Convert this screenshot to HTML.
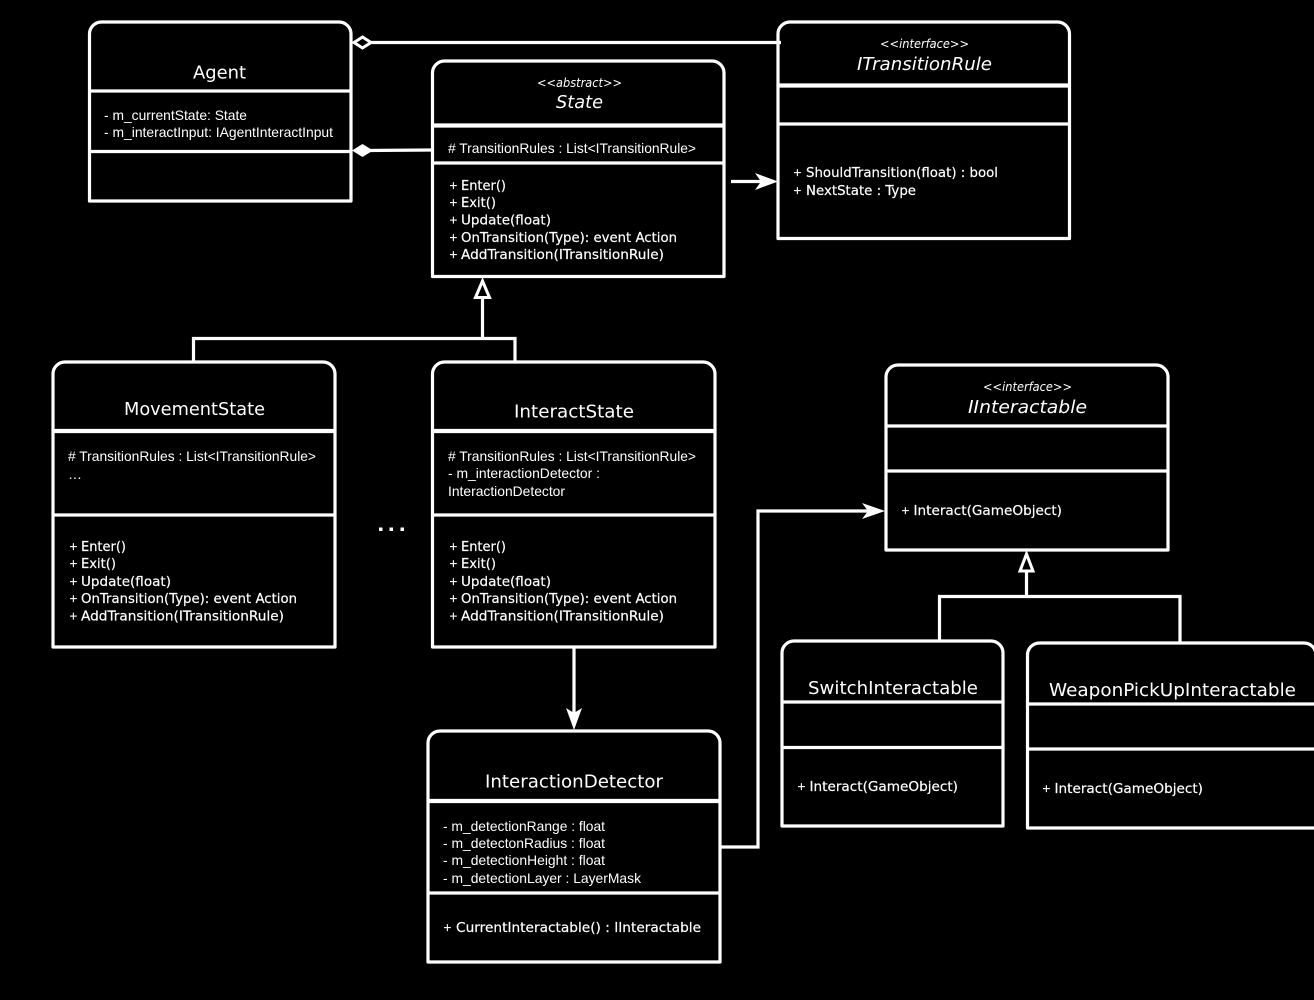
<!DOCTYPE html>
<html><head><meta charset="utf-8"><style>
html,body{margin:0;padding:0;background:#000}
svg{display:block}
.b{fill:none;stroke:#fff;stroke-width:3.2;stroke-linejoin:round}
.l{fill:none;stroke:#fff;stroke-width:3.2}
.t{stroke:#fff;fill:none;stroke-width:4.2}
text{fill:#fff}
.n{font:18px "DejaVu Sans",sans-serif}
.i{font:italic 18px "DejaVu Sans",sans-serif}
.s{font:italic 12px "DejaVu Sans",sans-serif}
.a{font:14px "Liberation Sans",sans-serif}
.m{font:13.5px "DejaVu Sans",sans-serif;stroke:#fff;stroke-width:.2}
.m:not([textLength]){font-size:10.5px;transform:translateY(-1px)}
</style></head><body>
<svg width="1314" height="1000" viewBox="0 0 1314 1000" xmlns="http://www.w3.org/2000/svg">
<rect width="1314" height="1000" fill="#000"/>

<!-- Boxes -->
<path class="b" d="M89.500 201V34a12 12 0 0 1 12-12H339a12 12 0 0 1 12 12V201Z"/>
<path class="l" d="M89 91H351M89 151.500H351"/>
<path class="b" d="M432.500 276.500V73a12 12 0 0 1 12-12H712a12 12 0 0 1 12 12V276.500Z"/>
<path class="t" d="M432 125.500H724"/><path class="l" d="M432 163H724"/>
<path class="b" d="M778 238.500V34a12 12 0 0 1 12-12H1057.500a12 12 0 0 1 12 12V238.500Z"/>
<path class="t" d="M778 85.500H1069"/><path class="l" d="M778 124H1069"/>
<path class="b" d="M53 647V374a12 12 0 0 1 12-12H323a12 12 0 0 1 12 12V647Z"/>
<path class="t" d="M53 431H335"/><path class="l" d="M53 515H335"/>
<path class="b" d="M432.500 647V374a12 12 0 0 1 12-12H703a12 12 0 0 1 12 12V647Z"/>
<path class="t" d="M432 431H715"/><path class="l" d="M432 515H715"/>
<path class="b" d="M886 550V377a12 12 0 0 1 12-12H1156a12 12 0 0 1 12 12V550Z"/>
<path class="l" d="M886 426H1168M886 471H1168"/>
<path class="b" d="M428 962V743a12 12 0 0 1 12-12H708a12 12 0 0 1 12 12V962Z"/>
<path class="t" d="M428 801H720"/><path class="l" d="M428 893H720"/>
<path class="b" d="M782 826V653a12 12 0 0 1 12-12H991a12 12 0 0 1 12 12V826Z"/>
<path class="l" d="M782 702H1003M782 747.500H1003"/>
<path class="b" d="M1027.500 828V655a12 12 0 0 1 12-12H1304a12 12 0 0 1 12 12V828Z"/>
<path class="l" d="M1028 704H1316M1028 749H1316"/>

<!-- Connectors -->
<path class="l" d="M371 42.500H781"/>
<path d="M354 42.500L362.500 37L371 42.500L362.500 48Z" fill="#000" stroke="#fff" stroke-width="3"/>
<path class="l" d="M370 150.500L432 150"/>
<path d="M352 150.500L362.500 144L373 150.500L362.500 157Z" fill="#fff"/>
<path class="l" d="M731 181.500H770"/>
<path d="M755 173L778 181.500L755 190L761 181.500Z" fill="#fff"/>
<path class="l" d="M482.500 297V338.500M193.500 362V338.500H515V362"/>
<path d="M482.500 281L475.500 297.500H489.500Z" fill="#000" stroke="#fff" stroke-width="3"/>
<path class="l" d="M574 647V720"/>
<path d="M566 708L574 730L582 708L574 713Z" fill="#fff"/>
<path class="l" d="M720 847H758V511H878"/>
<path d="M862 503L885 511L862 519L868 511Z" fill="#fff"/>
<path class="l" d="M1026.500 571V596.500M939.500 641V596.500H1180V643"/>
<path d="M1026.500 554L1020 571H1033Z" fill="#000" stroke="#fff" stroke-width="3"/>
<rect x="379" y="527.500" width="3.500" height="3.500" fill="#fff"/>
<rect x="389.500" y="527.500" width="3.500" height="3.500" fill="#fff"/>
<rect x="400.500" y="527.500" width="3.500" height="3.500" fill="#fff"/>

<!-- Agent -->
<text class="n" x="193" y="78.500" textLength="53" lengthAdjust="spacingAndGlyphs">Agent</text>
<text class="a" x="104" y="120" textLength="143" lengthAdjust="spacingAndGlyphs">- m_currentState: State</text>
<text class="a" x="104" y="137" textLength="229" lengthAdjust="spacingAndGlyphs">- m_interactInput: IAgentInteractInput</text>

<!-- State -->
<text class="s" x="537" y="87" textLength="85" lengthAdjust="spacingAndGlyphs">&lt;&lt;abstract&gt;&gt;</text>
<text class="i" x="556" y="108" textLength="47" lengthAdjust="spacingAndGlyphs">State</text>
<text class="a" x="448" y="153" textLength="248" lengthAdjust="spacingAndGlyphs"># TransitionRules : List&lt;ITransitionRule&gt;</text>
<text class="m" x="449" y="190">+</text><text class="m" x="461" y="190" textLength="45" lengthAdjust="spacingAndGlyphs">Enter()</text>
<text class="m" x="449" y="207">+</text><text class="m" x="461" y="207" textLength="35" lengthAdjust="spacingAndGlyphs">Exit()</text>
<text class="m" x="449" y="224.500">+</text><text class="m" x="461" y="224.500" textLength="90" lengthAdjust="spacingAndGlyphs">Update(float)</text>
<text class="m" x="449" y="242">+</text><text class="m" x="461" y="242" textLength="216" lengthAdjust="spacingAndGlyphs">OnTransition(Type): event Action</text>
<text class="m" x="449" y="259">+</text><text class="m" x="461" y="259" textLength="203" lengthAdjust="spacingAndGlyphs">AddTransition(ITransitionRule)</text>

<!-- ITransitionRule -->
<text class="s" x="880" y="48" textLength="89" lengthAdjust="spacingAndGlyphs">&lt;&lt;interface&gt;&gt;</text>
<text class="i" x="857" y="70" textLength="135" lengthAdjust="spacingAndGlyphs">ITransitionRule</text>
<text class="m" x="793" y="177">+</text><text class="m" x="806" y="177" textLength="192" lengthAdjust="spacingAndGlyphs">ShouldTransition(float) : bool</text>
<text class="m" x="793" y="195">+</text><text class="m" x="806" y="195" textLength="110" lengthAdjust="spacingAndGlyphs">NextState : Type</text>

<!-- MovementState -->
<text class="n" x="124" y="415" textLength="141" lengthAdjust="spacingAndGlyphs">MovementState</text>
<text class="a" x="68" y="461" textLength="248" lengthAdjust="spacingAndGlyphs"># TransitionRules : List&lt;ITransitionRule&gt;</text>
<text class="a" x="68" y="479" textLength="14" lengthAdjust="spacingAndGlyphs">…</text>
<text class="m" x="69" y="551">+</text><text class="m" x="81" y="551" textLength="45" lengthAdjust="spacingAndGlyphs">Enter()</text>
<text class="m" x="69" y="568">+</text><text class="m" x="81" y="568" textLength="35" lengthAdjust="spacingAndGlyphs">Exit()</text>
<text class="m" x="69" y="586">+</text><text class="m" x="81" y="586" textLength="90" lengthAdjust="spacingAndGlyphs">Update(float)</text>
<text class="m" x="69" y="603">+</text><text class="m" x="81" y="603" textLength="216" lengthAdjust="spacingAndGlyphs">OnTransition(Type): event Action</text>
<text class="m" x="69" y="620.500">+</text><text class="m" x="81" y="620.500" textLength="203" lengthAdjust="spacingAndGlyphs">AddTransition(ITransitionRule)</text>

<!-- InteractState -->
<text class="n" x="514" y="417.500" textLength="120" lengthAdjust="spacingAndGlyphs">InteractState</text>
<text class="a" x="448" y="461" textLength="248" lengthAdjust="spacingAndGlyphs"># TransitionRules : List&lt;ITransitionRule&gt;</text>
<text class="a" x="448" y="478" textLength="152" lengthAdjust="spacingAndGlyphs">- m_interactionDetector :</text>
<text class="a" x="448" y="496" textLength="117" lengthAdjust="spacingAndGlyphs">InteractionDetector</text>
<text class="m" x="449" y="551">+</text><text class="m" x="461" y="551" textLength="45" lengthAdjust="spacingAndGlyphs">Enter()</text>
<text class="m" x="449" y="568">+</text><text class="m" x="461" y="568" textLength="35" lengthAdjust="spacingAndGlyphs">Exit()</text>
<text class="m" x="449" y="586">+</text><text class="m" x="461" y="586" textLength="90" lengthAdjust="spacingAndGlyphs">Update(float)</text>
<text class="m" x="449" y="603">+</text><text class="m" x="461" y="603" textLength="216" lengthAdjust="spacingAndGlyphs">OnTransition(Type): event Action</text>
<text class="m" x="449" y="620.500">+</text><text class="m" x="461" y="620.500" textLength="203" lengthAdjust="spacingAndGlyphs">AddTransition(ITransitionRule)</text>

<!-- IInteractable -->
<text class="s" x="983" y="391" textLength="89" lengthAdjust="spacingAndGlyphs">&lt;&lt;interface&gt;&gt;</text>
<text class="i" x="968" y="413" textLength="119" lengthAdjust="spacingAndGlyphs">IInteractable</text>
<text class="m" x="901" y="515">+</text><text class="m" x="913.500" y="515" textLength="148.500" lengthAdjust="spacingAndGlyphs">Interact(GameObject)</text>

<!-- InteractionDetector -->
<text class="n" x="485" y="787.500" textLength="178" lengthAdjust="spacingAndGlyphs">InteractionDetector</text>
<text class="a" x="443" y="831" textLength="162" lengthAdjust="spacingAndGlyphs">- m_detectionRange : float</text>
<text class="a" x="443" y="848" textLength="162" lengthAdjust="spacingAndGlyphs">- m_detectonRadius : float</text>
<text class="a" x="443" y="865" textLength="162" lengthAdjust="spacingAndGlyphs">- m_detectionHeight : float</text>
<text class="a" x="443" y="883" textLength="198" lengthAdjust="spacingAndGlyphs">- m_detectionLayer : LayerMask</text>
<text class="m" x="443" y="932">+</text><text class="m" x="456" y="932" textLength="245" lengthAdjust="spacingAndGlyphs">CurrentInteractable() : IInteractable</text>

<!-- Switch -->
<text class="n" x="808" y="694" textLength="170" lengthAdjust="spacingAndGlyphs">SwitchInteractable</text>
<text class="m" x="797" y="791">+</text><text class="m" x="809.500" y="791" textLength="148.500" lengthAdjust="spacingAndGlyphs">Interact(GameObject)</text>

<!-- Weapon -->
<text class="n" x="1049" y="696" textLength="247" lengthAdjust="spacingAndGlyphs">WeaponPickUpInteractable</text>
<text class="m" x="1042" y="793">+</text><text class="m" x="1054.500" y="793" textLength="148.500" lengthAdjust="spacingAndGlyphs">Interact(GameObject)</text>
</svg>
</body></html>
